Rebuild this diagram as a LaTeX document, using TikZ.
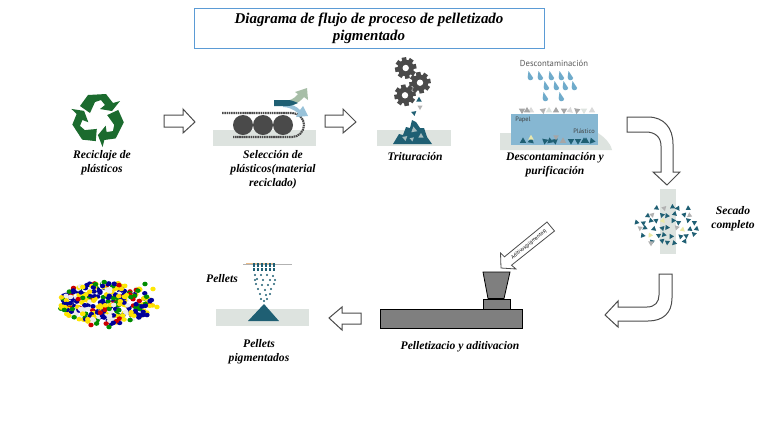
\documentclass[tikz,border=0pt]{standalone}
\usepackage{fontspec}
\setmainfont{Liberation Serif}
\newfontfamily\diagsans{PT Sans}
\usetikzlibrary{calc}
\definecolor{teal1}{HTML}{1F5F73}
\definecolor{band}{HTML}{DDE3DF}
\definecolor{gearc}{HTML}{4A4A4A}
\definecolor{bluebox}{HTML}{86B7D2}
\definecolor{drop}{HTML}{6FABCB}
\definecolor{recy}{HTML}{1B6B2E}
\definecolor{titleb}{HTML}{5B9BD5}
\definecolor{ext}{HTML}{7F7F7F}
\newcommand{\tri}[5]{\fill[#5] (#1,#2) ++(#4:#3) -- ++(#4+150:1.732*#3) -- ++(#4+270:1.732*#3) -- cycle;}
\newcommand{\gearshape}[2]{%
  \foreach \a in {0,45,...,135}{\fill[gearc,rotate around={\a+10:(#1,#2)}] ($(#1,#2)+(-2.3,-10.7)$) rectangle ($(#1,#2)+(2.3,10.7)$);}
  \fill[gearc] (#1,#2) circle (8.2);
  \fill[white] (#1,#2) circle (3.2);}
\tikzset{
  x=.75pt,y=-.75pt,
  lab/.style={font=\fontsize{8.7}{10.5}\selectfont\bfseries\itshape,align=center,text=black,inner sep=0pt},
  blockarrow/.style={draw=black!70,fill=white,line width=.75pt,line join=miter},
  graytxt/.style={font=\diagsans\fontsize{6.5}{7}\selectfont,text=black!65,inner sep=0pt}
}
\begin{document}
\begin{tikzpicture}
\useasboundingbox (0,0) rectangle (768,433);
\fill[white] (0,0) rectangle (768,433);
% title
\node[draw=titleb,line width=.6pt,minimum width=262.5pt,minimum height=30.5pt,inner sep=0pt,font=\fontsize{11.2}{12.8}\selectfont\bfseries\itshape,align=center] (title) at (369,28.5) {Diagrama de flujo de proceso de pelletizado\\pigmentado};
% recycle
\begin{scope}[shift={(98,119)}]
\foreach \r in {0,120,240}{
 \begin{scope}[rotate=\r]
  \fill[recy] (-18,-13) -- (-10,-24) -- (8,-25) -- (15,-16) -- (22,-18) -- (14,-8) -- (2,-10) -- (7,-14) -- (3,-19) -- (-3,-17) -- (-8,-6) -- cycle;
 \end{scope}}
\end{scope}
\node[lab] (l1) at (102,163) {Reciclaje de\\plásticos};
% arrows top
\draw[blockarrow] (164,115) -- (183,115) -- (183,109) -- (195,122) -- (183,133) -- (183,127) -- (164,127) -- cycle;
\draw[blockarrow] (325,115) -- (343,115) -- (343,109) -- (356,122) -- (343,133) -- (343,127) -- (325,127) -- cycle;
% conveyor
\fill[band] (213,130) rectangle (316,146);
\foreach \x in {243,263,283}{\fill[gearc] (\x,125) circle (10);}
\draw[gearc,line width=1.6pt,dash pattern=on 1.2pt off .5pt] (222,113) -- (292,113) arc (-90:90:12) -- (233,137);
\fill[bluebox!85!white] (283,104) .. controls (292,104) and (296,106) .. (300,110) -- (303,106) -- (308,116) -- (296,117) -- (298,113) .. controls (293,109) and (288,107) .. (283,107) -- cycle;
\fill[green!15!gray!60!white] (283,101) .. controls (290,101) and (294,99) .. (298,94) -- (295,92) -- (307,88) -- (308,100) -- (304,97) .. controls (298,104) and (292,106) .. (283,106) -- cycle;
\fill[teal1] (274,100) -- (288,100) .. controls (292,100) and (295,102) .. (298,103) .. controls (295,104) and (292,106) .. (288,106) -- (274,106) -- cycle;
\node[lab] (l2) at (273,170) {Selección de\\plásticos(material\\reciclado)};
% gears
\gearshape{405.7}{68}
\gearshape{420}{82.7}
\gearshape{405}{95.3}
\fill[band] (377,130) rectangle (451,146);
\fill[teal1] (393,144) -- (399,134) -- (403,135) -- (406,127) -- (410,128) -- (412,120) -- (416,122) -- (420,128) -- (424,128) -- (427,137) -- (432,144) -- cycle;
\tri{414}{130}{3.5}{20}{band!70!teal1}
\tri{405}{138}{3}{80}{band!70!teal1}
\tri{421}{136}{3}{150}{band!70!teal1}
\tri{412}{139}{2.5}{200}{band!70!teal1}
\tri{419}{100}{3.2}{30}{teal1}
\tri{420}{107}{3}{90}{black!30}
\tri{414}{113}{3}{200}{teal1}
\node[lab] (l3) at (415,156.5) {Trituración};
% decontamination
\node[graytxt] (t4) at (554,63) {Descontaminación};
\foreach \x/\y in {531/77,541/77,552/77,562/77,571/77,547/87,557/87,566/87,575/87,546/98,562/98}{
 \fill[drop] (\x-2.5,\y-6) -- (\x+2.2,\y+1) arc (10:190:2.8) -- cycle;
}
\fill[band] (500,133) -- (598,133) .. controls (604,137) and (610,142) .. (612,150) -- (500,150) -- cycle;
\foreach \x/\c/\a in {522/black!35/90,531/black!15/30,543/black!30/80,549/band/150,556/black!35/-90,564/black!35/90,570/black!15/40,577/black!35/100,584/band/90,592/black!15/30,527/black!35/-90}{
 \tri{\x}{110.5}{3.6}{\a}{\c}
}
\fill[bluebox] (511,114) rectangle (598,145);
\foreach \x/\c/\a in {523/teal1/-90,531/teal1/40,545/teal1/-20,550/teal1/20,555/teal1/80,563/black!35/-90,571/teal1/-30,578/teal1/90,584/teal1/30,592/teal1/10,586/teal1/-90}{
 \tri{\x}{141}{3.6}{\a}{\c}
}
\tri{531}{138}{3.2}{30}{yellow!25!band}
\tri{556}{137}{3.2}{90}{black!35}
\node[graytxt,text=black!75,font=\diagsans\fontsize{4.8}{5}\selectfont] (t5) at (523,120) {Papel};
\node[graytxt,text=black!75,font=\diagsans\fontsize{4.8}{5}\selectfont] (t6) at (584,131) {Plástico};
\node[lab] (l4) at (555,164.5) {Descontaminación y\\purificación};
% bent arrow 1
\draw[blockarrow] (627,117) -- (648,117) .. controls (664,117) and (673,128) .. (673,144) -- (673,172) -- (680,172) -- (667,185) -- (653,172) -- (661,172) -- (661,146) .. controls (661,137) and (655,132) .. (646,132) -- (627,132) -- cycle;
% drying
\fill[band] (660,189) rectangle (676,254);
\pgfmathsetseed{12}
\foreach \j in {0,...,5}{
 \foreach \i in {0,...,9}{
  \pgfmathsetmacro\px{635+\i*7.4+mod(\j,2)*3.7+(rnd-.5)*3.5}
  \pgfmathsetmacro\py{208+\j*6.8+(rnd-.5)*3}
  \pgfmathsetmacro\inside{((\px-667)/35)^2+((\py-225)/21)^2<1?1:0}
  \pgfmathsetmacro\ang{int(rnd*4)*90+(rnd-.5)*30}
  \pgfmathsetmacro\k{int(rnd*14)}
  \ifnum\k<12 \def\cc{teal1}\else\ifnum\k=12 \def\cc{black!30}\else\def\cc{yellow!30!band}\fi\fi
  \ifdim\inside pt>0.5pt
   \tri{\px}{\py}{3}{\ang}{\cc}
  \fi
 }
}
\tri{651}{243}{3.3}{90}{black!30}
\node[lab] (l5) at (733,218.5) {Secado\\completo};
% bent arrow 2
\draw[blockarrow] (659,274) -- (672,274) -- (672,298) .. controls (672,313) and (663,321) .. (648,321) -- (618,321) -- (618,327) -- (605,315) -- (618,301) -- (618,307) -- (647,307) .. controls (655,307) and (659,302) .. (659,295) -- cycle;
% extruder
\draw[fill=ext,line width=.6pt] (380,309) rectangle (522,328);
\draw[fill=ext,line width=.6pt] (483,299) rectangle (510,309);
\draw[fill=ext,line width=.6pt] (483,272) -- (510,272) -- (504,298.5) -- (488,298.5) -- cycle;
\draw[blockarrow,line width=.6pt] (547,222) -- (554.5,231) -- (511.5,265.2) -- (516,269) -- (501,268) -- (500.5,253) -- (504.5,256.8) -- cycle;
\node[font=\diagsans\fontsize{3.9}{4}\selectfont,rotate=39.5,inner sep=0pt] (t7) at (529,244.5) {Aditivos(pigmentos)};
\node[lab] (l6) at (460,347) {Pelletizacio y aditivacion};
% left arrow
\draw[blockarrow] (361,313) -- (342,313) -- (342,307) -- (329,318) -- (342,330) -- (342,324) -- (361,324) -- cycle;
% pellets
\fill[band] (216,309) rectangle (309,326);
\fill[teal1] (264,304) -- (279,321) -- (248,321) -- cycle;
\draw[black!30,line width=.5pt] (243,264) -- (292,264);
\draw[orange!40!band,line width=.6pt] (246,263) -- (275,263);
\foreach \x in {254,258,262,266,270,274}{\fill[teal1] (\x-1,262.5) rectangle (\x+1,267);\fill[teal1] (\x-1,268) rectangle (\x+1,271);}
\foreach \x/\y in {255/275,261/275,267/275,273/276,257/279,263/280,270/280,255/280,275/280,256/284,262/285,268/285,274/284,258/289,265/290,271/289,260/294,266/295,270/294,261/299,264/301,267/299}{\fill[teal1] (\x,\y) circle (1.1);}
\node[lab] (l7) at (222,279) {Pellets};
\node[lab] (l8) at (259,352) {Pellets\\pigmentados};
% colored pile
\pgfmathsetseed{5}
\foreach \i in {1,...,340}{
 \pgfmathsetmacro\ra{rnd*360}
 \pgfmathsetmacro\rr{sqrt(rnd)}
 \pgfmathsetmacro\px{106+47*\rr*cos(\ra)}
 \pgfmathsetmacro\py{303+21*\rr*sin(\ra)}
 \pgfmathsetmacro\kk{int(rnd*7)}
 \ifcase\kk \def\cc{yellow!90!orange}\or\def\cc{red!80!black}\or\def\cc{blue!60!black}\or\def\cc{green!55!black}\or\def\cc{yellow!80!orange}\or\def\cc{blue!60!black}\else\def\cc{black!8}\fi
 \fill[\cc] (\px,\py) ellipse (2.7 and 2.3);
}
\foreach \x/\y/\c in {145/284/green!55!black,153/289/yellow!90!orange,157/307/yellow!90!orange,147/315/blue!60!black,150/301/blue!60!black,109/327/green!55!black,91/325/red!80!black}{\fill[\c] (\x,\y) ellipse (2.7 and 2.3);}
\end{tikzpicture}
\end{document}
